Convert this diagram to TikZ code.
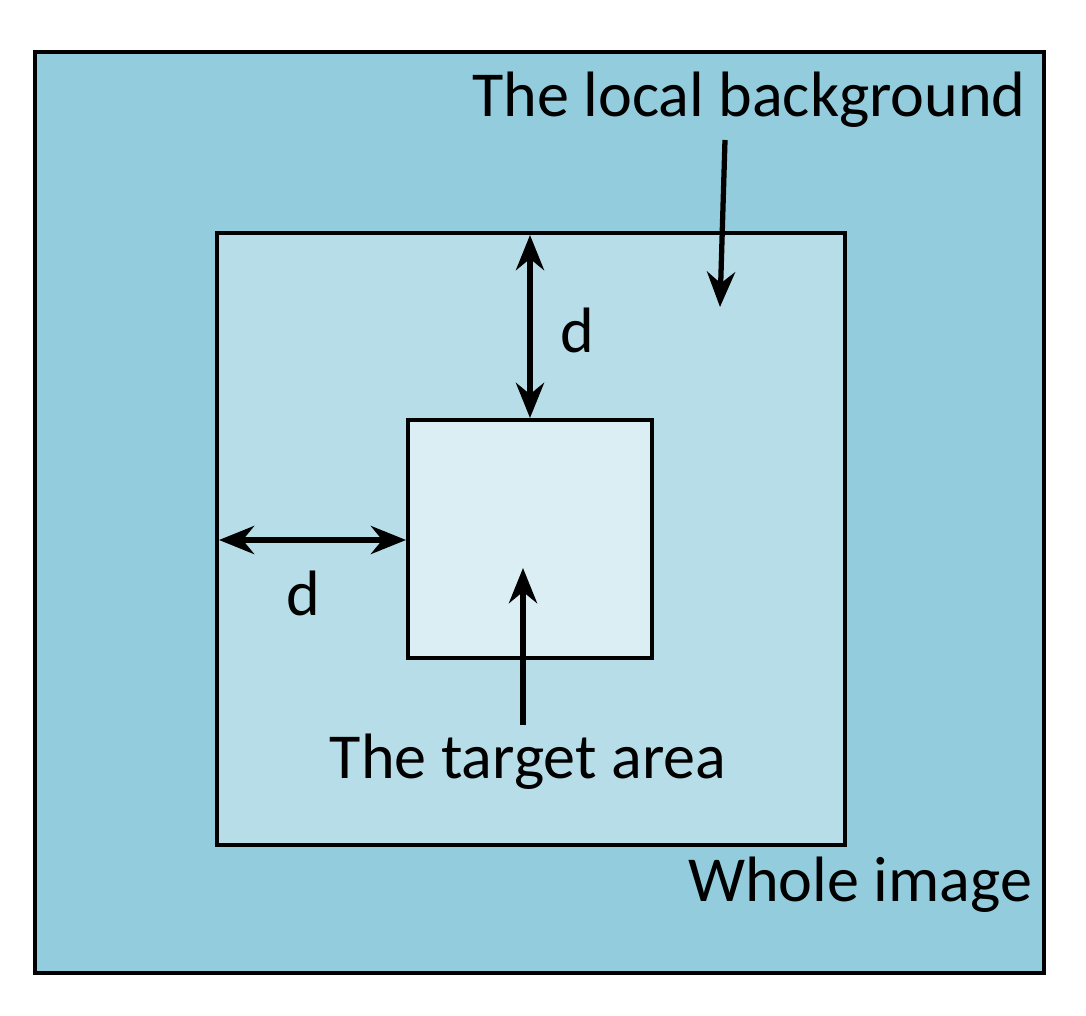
\documentclass[tikz,border=0pt]{standalone}
\usepackage{fontspec}
\setmainfont{Carlito}
\usetikzlibrary{arrows.meta}
\definecolor{outerc}{HTML}{93CDDD}
\definecolor{midc}{HTML}{B7DEE8}
\definecolor{innerc}{HTML}{DBEEF3}
\begin{document}
\begin{tikzpicture}[x=0.02cm,y=-0.02cm,
  box/.style={draw=black,line width=2.8pt},
  arr/.style={line width=3pt,-{Stealth[length=20pt,width=16pt]}},
  darr/.style={line width=3pt,{Stealth[length=20pt,width=16pt]}-{Stealth[length=20pt,width=16pt]}},
  lbl/.style={font=\fontsize{36.5}{42}\selectfont,inner sep=0pt}]
\useasboundingbox (0,0) rectangle (1086,1015);
\draw[box,fill=outerc] (35,52) rectangle (1044,973);
\draw[box,fill=midc] (217,233) rectangle (845,845);
\draw[box,fill=innerc] (408,420) rectangle (652,658);
\coordinate (vt) at (530,235);
\coordinate (vb) at (530,418);
\draw[darr] (vt) -- (vb);
\node[lbl] (d1) at (577,330) {d};
\coordinate (hl) at (219,540);
\coordinate (hr) at (406,540);
\draw[darr] (hl) -- (hr);
\node[lbl] (d2) at (303,593) {d};
\node[lbl] (lb) at (749,100) {The local background};
\coordinate (lbe) at (720,307);
\draw[arr] (725,140) -- (lbe);
\node[lbl] (ta) at (528,762) {The target area};
\coordinate (tae) at (523,568);
\draw[arr] (523,725) -- (tae);
\node[lbl] (wi) at (860,885) {Whole image};
\end{tikzpicture}
\end{document}
